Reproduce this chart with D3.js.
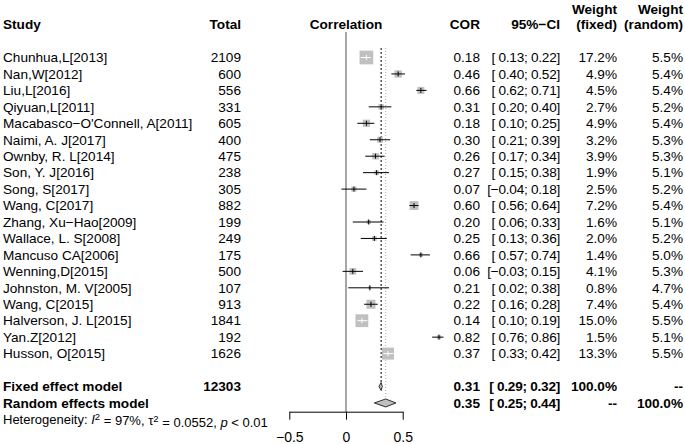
<!DOCTYPE html>
<html>
<head>
<meta charset="utf-8">
<script src="https://cdn.jsdelivr.net/npm/d3@7"></script>
<style>
body{margin:0;background:#fff;}
svg text{font-family:"Liberation Sans",Arial,Helvetica,sans-serif;font-size:13.6px;fill:#000;white-space:pre;}
.b{font-weight:bold;}
</style>
</head>
<body>
<svg id="chart" width="685" height="444"></svg>
<script>
const studies=["Chunhua,L[2013]","Nan,W[2012]","Liu,L[2016]","Qiyuan,L[2011]","Macabasco\u2212O'Connell, A[2011]","Naimi, A. J[2017]","Ownby, R. L[2014]","Son, Y. J[2016]","Song, S[2017]","Wang, C[2017]","Zhang, Xu\u2212Hao[2009]","Wallace, L. S[2008]","Mancuso CA[2006]","Wenning,D[2015]","Johnston, M. V[2005]","Wang, C[2015]","Halverson, J. L[2015]","Yan.Z[2012]","Husson, O[2015]"];
const totals=[2109,600,556,331,605,400,475,238,305,882,199,249,175,500,107,913,1841,192,1626];
const cor=[0.18,0.46,0.66,0.31,0.18,0.30,0.26,0.27,0.07,0.60,0.20,0.25,0.66,0.06,0.21,0.22,0.14,0.82,0.37];
const lower=[0.13,0.40,0.62,0.20,0.10,0.21,0.17,0.15,-0.04,0.56,0.06,0.13,0.57,-0.03,0.02,0.16,0.10,0.76,0.33];
const upper=[0.22,0.52,0.71,0.40,0.25,0.39,0.34,0.38,0.18,0.64,0.33,0.36,0.74,0.15,0.38,0.28,0.19,0.86,0.42];
const wFixed=[17.2,4.9,4.5,2.7,4.9,3.2,3.9,1.9,2.5,7.2,1.6,2.0,1.4,4.1,0.8,7.4,15.0,1.5,13.3];
const wRandom=[5.5,5.4,5.4,5.2,5.4,5.3,5.3,5.1,5.2,5.4,5.1,5.2,5.0,5.3,4.7,5.4,5.5,5.1,5.5];
const pooled=[
	{name:"Fixed effect model",total:12303,est:0.31,lo:0.29,hi:0.32,wf:"100.0%",wr:"--"},
	{name:"Random effects model",total:null,est:0.35,lo:0.25,hi:0.44,wf:"--",wr:"100.0%"}
];
const axisTicks=[-0.5,0,0.5];

const svg=d3.select("#chart");
const x=d3.scaleLinear().domain([-0.5,0.5]).range([289.3,402.7]);
const y=d3.scaleLinear().domain([0,1]).range([57.5,73.95]);
const side=d3.scaleSqrt().domain([0,17.2]).range([0,13.7]);
const fmt=d3.format(".2f");
const num=v=>fmt(v).replace("-","\u2212");
const ci=(a,b)=>"["+(a<0?"":" ")+num(a)+"; "+num(b)+"]";

const rows=studies.map(function(s,i){return {name:s,total:totals[i],est:cor[i],lo:lower[i],hi:upper[i],wf:wFixed[i].toFixed(1)+"%",wr:wRandom[i].toFixed(1)+"%",i:i};});
const nFix=studies.length+1,nRan=studies.length+2,nHet=studies.length+3;

// headers
const head=svg.append("g").attr("class","b");
head.append("text").attr("x",3).attr("y",24).attr("dy","0.35em").text("Study");
head.append("text").attr("x",241).attr("y",24).attr("dy","0.35em").attr("text-anchor","end").text("Total");
head.append("text").attr("x",x(0)).attr("y",24).attr("dy","0.35em").attr("text-anchor","middle").text("Correlation");
head.append("text").attr("x",480).attr("y",24).attr("dy","0.35em").attr("text-anchor","end").text("COR");
head.append("text").attr("x",560).attr("y",24).attr("dy","0.35em").attr("text-anchor","end").text("95%\u2212CI");
head.append("text").attr("x",617).attr("y",9).attr("dy","0.35em").attr("text-anchor","end").text("Weight");
head.append("text").attr("x",617).attr("y",24.5).attr("dy","0.35em").attr("text-anchor","end").text("(fixed)");
head.append("text").attr("x",683).attr("y",9).attr("dy","0.35em").attr("text-anchor","end").text("Weight");
head.append("text").attr("x",683).attr("y",24.5).attr("dy","0.35em").attr("text-anchor","end").text("(random)");

// reference lines
svg.append("line").attr("x1",x(0)).attr("x2",x(0)).attr("y1",32).attr("y2",411.7).style("stroke","#777").style("stroke-width",1.3);
svg.append("line").attr("x1",x(pooled[0].est)).attr("x2",x(pooled[0].est)).attr("y1",48).attr("y2",y(nFix)-4).style("stroke","#000").style("stroke-dasharray","2,2");
svg.append("line").attr("x1",x(pooled[1].est)).attr("x2",x(pooled[1].est)).attr("y1",48).attr("y2",y(nRan)-4).style("stroke","#aaa").style("stroke-dasharray","1,2");

// table text for studies and pooled rows
function writeRow(g,d,yy){
	g.append("text").attr("x",3).attr("y",yy).attr("dy","0.35em").text(d.name);
	if(d.total!=null)g.append("text").attr("x",241).attr("y",yy).attr("dy","0.35em").attr("text-anchor","end").text(d.total);
	g.append("text").attr("x",480).attr("y",yy).attr("dy","0.35em").attr("text-anchor","end").text(num(d.est));
	g.append("text").attr("x",560).attr("y",yy).attr("dy","0.35em").attr("text-anchor","end").text(ci(d.lo,d.hi));
	g.append("text").attr("x",617).attr("y",yy).attr("dy","0.35em").attr("text-anchor","end").text(d.wf);
	g.append("text").attr("x",683).attr("y",yy).attr("dy","0.35em").attr("text-anchor","end").text(d.wr);
}
const tbl=svg.append("g");
rows.forEach(function(d){writeRow(tbl,d,y(d.i));});
const ptbl=svg.append("g").attr("class","b");
writeRow(ptbl,pooled[0],y(nFix));
writeRow(ptbl,pooled[1],y(nRan));
// CI column a touch tighter, like the reference
svg.selectAll("text").filter(function(){return this.textContent.charAt(0)==="["}).style("letter-spacing","-0.25px");

// study marks
const marks=svg.append("g").selectAll("g").data(rows).enter().append("g");
marks.append("rect")
	.attr("x",function(d){return x(d.est)-side(wFixed[d.i])/2})
	.attr("y",function(d){return y(d.i)-side(wFixed[d.i])/2})
	.attr("width",function(d){return side(wFixed[d.i])})
	.attr("height",function(d){return side(wFixed[d.i])})
	.style("fill","#c0c0c0");
const inside=function(d){let h=side(wFixed[d.i])/2;return x(d.lo)>x(d.est)-h&&x(d.hi)<x(d.est)+h;};
marks.append("line")
	.attr("x1",function(d){return x(d.lo)}).attr("x2",function(d){return x(d.hi)})
	.attr("y1",function(d){return y(d.i)}).attr("y2",function(d){return y(d.i)})
	.style("stroke",function(d){return inside(d)?"#fff":"#000"}).style("stroke-width",1);
marks.append("line")
	.attr("x1",function(d){return x(d.est)}).attr("x2",function(d){return x(d.est)})
	.attr("y1",function(d){return y(d.i)-2.5}).attr("y2",function(d){return y(d.i)+2.5})
	.style("stroke",function(d){return inside(d)?"#fff":"#000"}).style("stroke-width",1);

// diamonds
[[pooled[0],nFix],[pooled[1],nRan]].forEach(function(p){
	const d=p[0],yy=y(p[1]);
	svg.append("path")
		.attr("d","M"+x(d.lo)+","+yy+"L"+x(d.est)+","+(yy-4)+"L"+x(d.hi)+","+yy+"L"+x(d.est)+","+(yy+4)+"Z")
		.style("fill","#c0c0c0").style("stroke","#000").style("stroke-width",0.8);
});

// heterogeneity
const het=svg.append("text").attr("x",3).attr("y",y(nHet)).attr("dy","0.35em").style("font-size","13px");
het.append("tspan").text("Heterogeneity: ");
het.append("tspan").style("font-style","italic").text("I");
het.append("tspan").attr("dy","-0.4em").style("font-size","9.5px").text("2");
het.append("tspan").attr("dy","0.4em").text(" = 97%, \u03c4");
het.append("tspan").attr("dy","-0.4em").style("font-size","9.5px").text("2");
het.append("tspan").attr("dy","0.4em").text(" = 0.0552, ");
het.append("tspan").style("font-style","italic").text("p");
het.append("tspan").text(" < 0.01");

// axis
const ax=d3.axisBottom(x).tickValues(axisTicks).tickSize(8).tickSizeOuter(0).tickPadding(12)
	.tickFormat(function(v){return v===0?"0":String(v).replace("-","\u2212")});
const axg=svg.append("g").attr("transform","translate(0,411.7)").call(ax);
axg.selectAll("path,line").style("stroke","#000").style("stroke-width",1);
axg.selectAll("text").style("font-size","14px").style("font-family","'Liberation Sans',Arial,sans-serif");
</script>
</body>
</html>
